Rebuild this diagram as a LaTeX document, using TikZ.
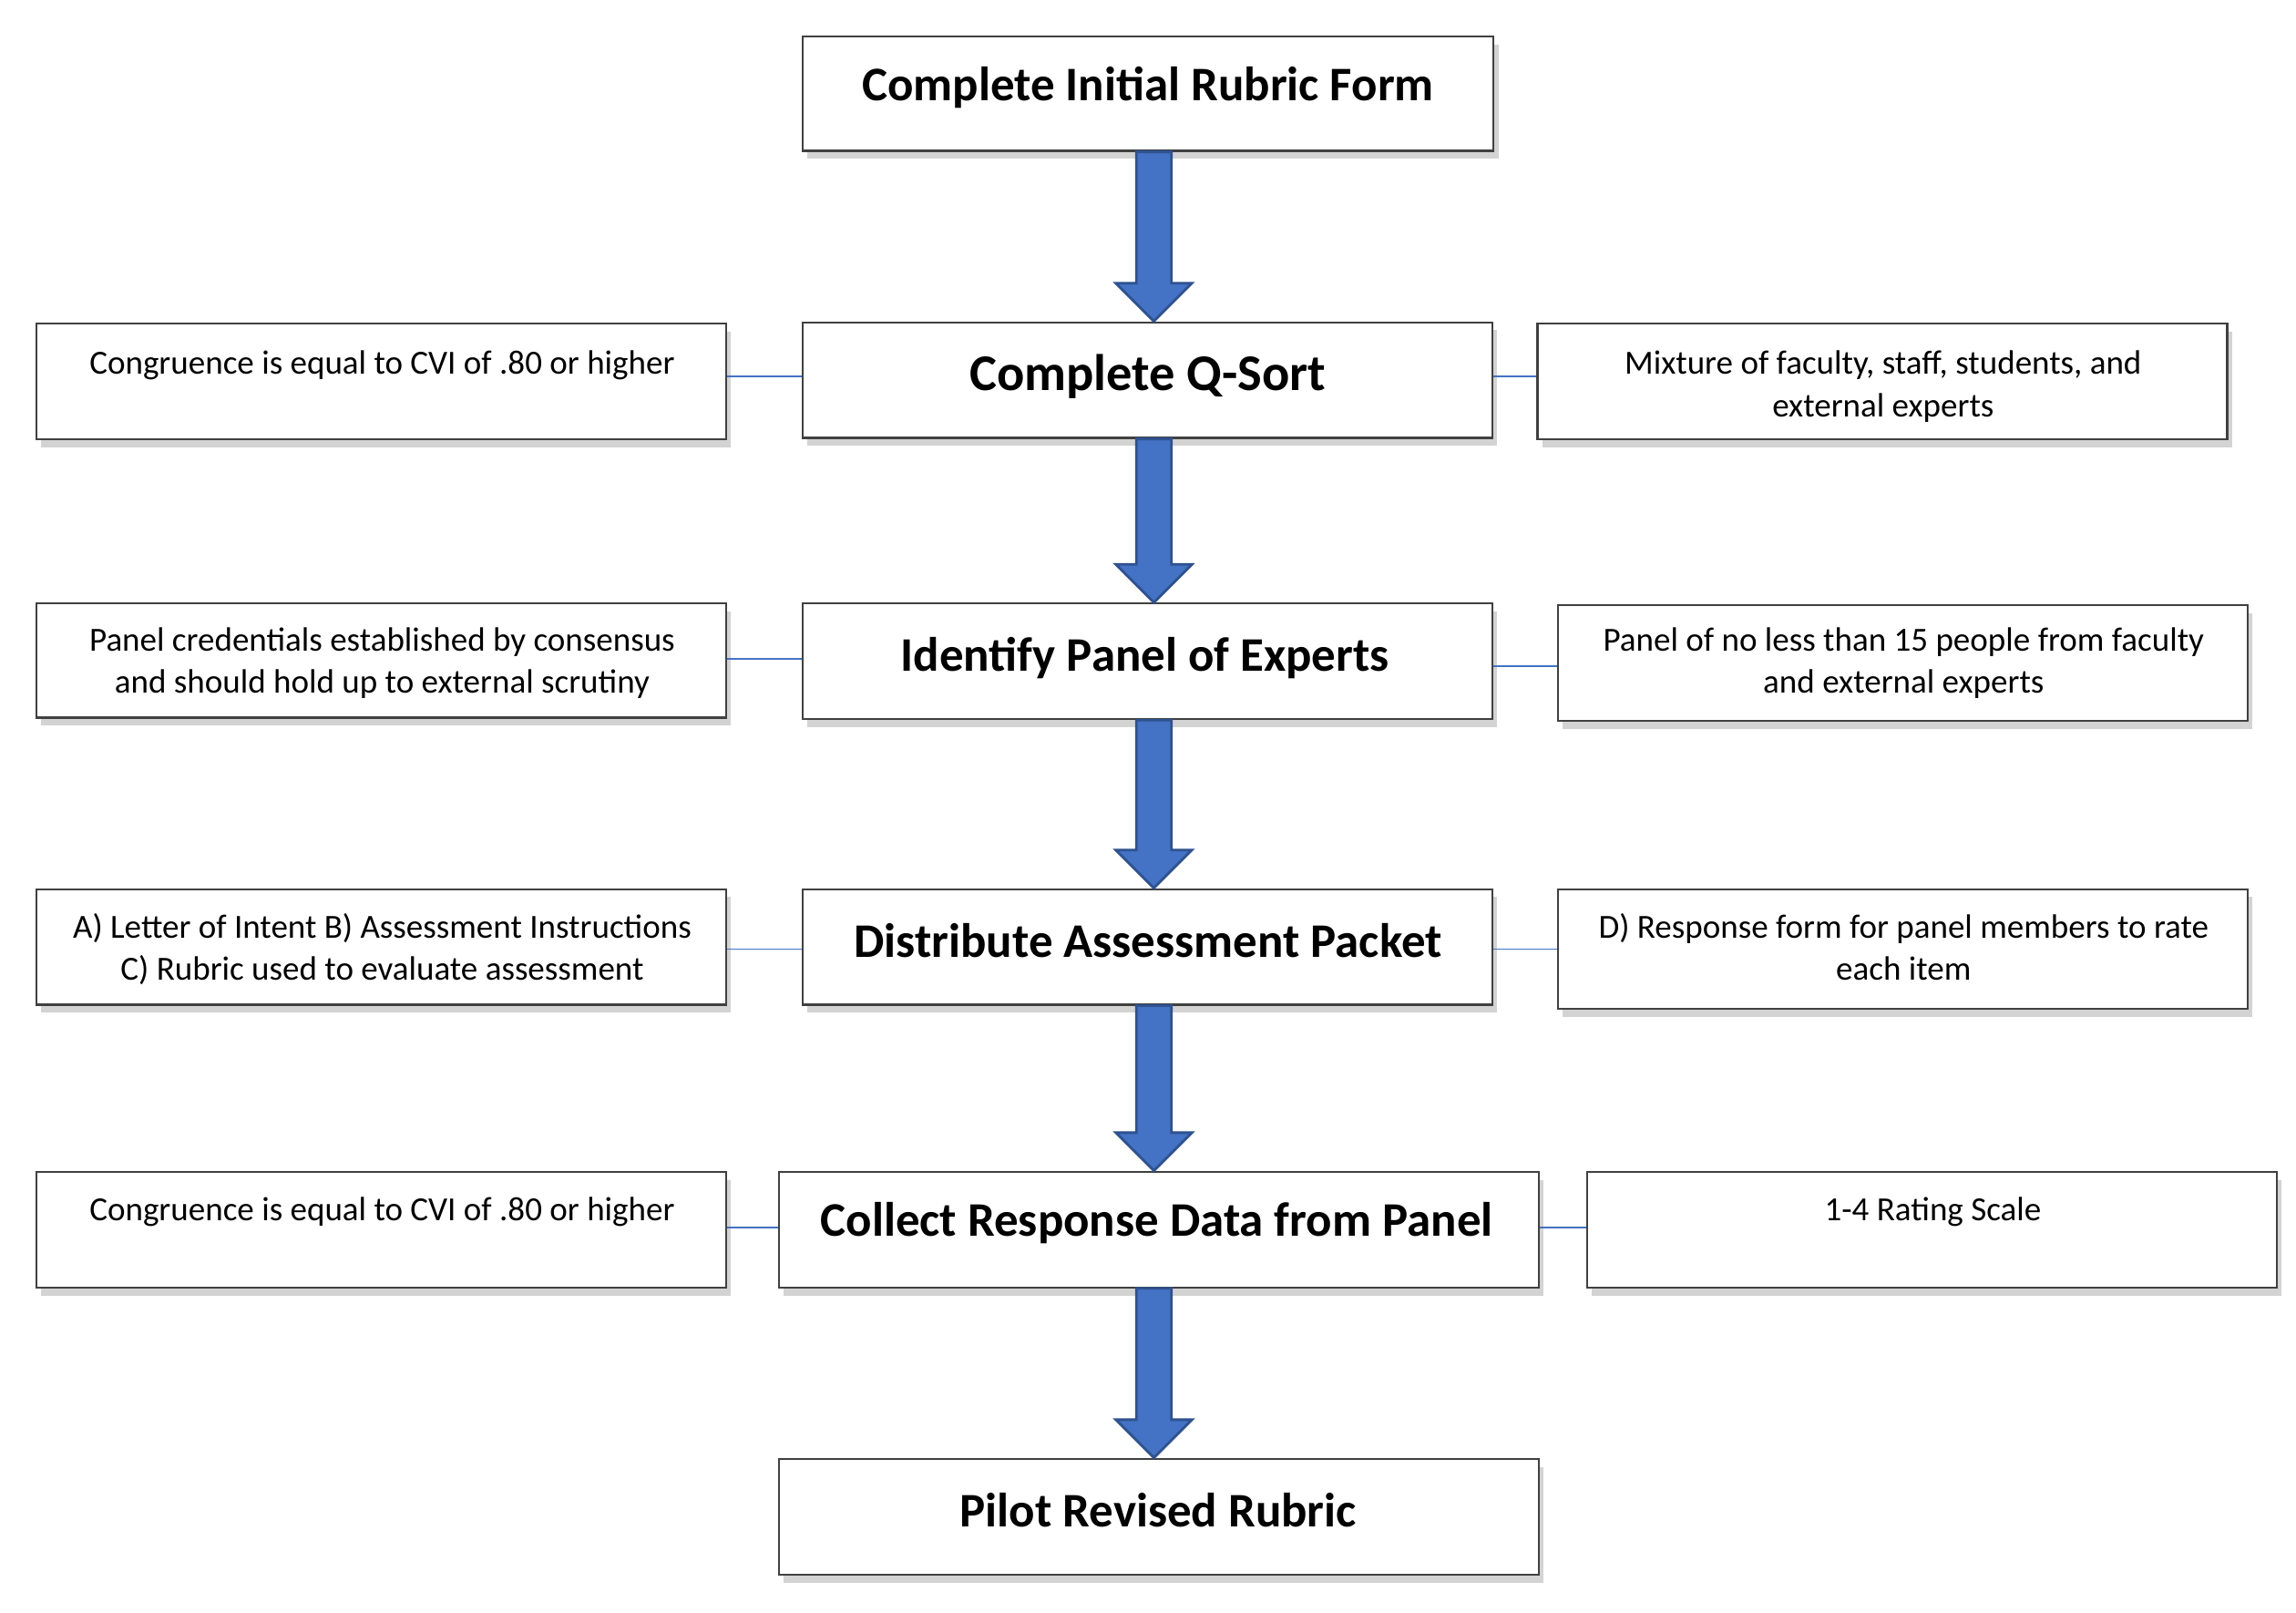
\documentclass[tikz,border=0pt]{standalone}
\usepackage{fontspec}
\setmainfont{Carlito}
\usetikzlibrary{shadows,calc}
\definecolor{arr}{HTML}{4472C4}
\definecolor{arrd}{HTML}{2F528F}
\begin{document}
\begin{tikzpicture}[x=0.4555pt,y=-0.4555pt,
 box/.style={draw=black!75,line width=0.6pt,fill=white,inner sep=0pt,
   drop shadow={opacity=0.35,shadow xshift=1.5pt,shadow yshift=-2.5pt}},
 mt/.style={font=\fontsize{15}{18}\selectfont\bfseries},
 st/.style={font=\fontsize{10.5}{13.2}\selectfont,align=center,anchor=north,inner sep=0pt},
 link/.style={draw=arr,line width=0.5pt},
 bigarrow/.style={fill=arr,draw=arrd,line width=0.8pt}]
\useasboundingbox (0,0) rectangle (1568,1101);
\newcommand\bx[6]{\node[box,minimum width={(#4-#2)*0.4555pt},minimum height={(#5-#3)*0.4555pt}] (#1) at ({(#2+#4)/2},{(#3+#5)/2}) {#6};}
% main boxes
\bx{m1}{548}{25}{1020}{103}{}
\node[mt] (t1) at (784,60) {Complete Initial Rubric Form};
\bx{m2}{548}{220}{1019}{299}{}
\node[mt,font=\fontsize{16}{18}\selectfont\bfseries] (t2) at (784,257) {Complete Q-Sort};
\bx{m3}{548}{412}{1019}{491}{}
\node[mt] (t3) at (782,449) {Identify Panel of Experts};
\bx{m4}{548}{607}{1019}{686}{}
\node[mt] (t4) at (784,642) {Distribute Assessment Packet};
\bx{m5}{532}{800}{1051}{879}{}
\node[mt] (t5) at (790,835) {Collect Response Data from Panel};
\bx{m6}{532}{996}{1051}{1075}{}
\node[mt] (t6) at (791,1031) {Pilot Revised Rubric};
% side boxes
\bx{l2}{25}{221}{496}{300}{}
\node[st] (tl2) at (261,239) {Congruence is equal to CVI of .80 or higher};
\bx{r2}{1050}{221}{1521}{300}{}
\node[st] (tr2) at (1286,239) {Mixture of faculty, staff, students, and\\external experts};
\bx{l3}{25}{412}{496}{490}{}
\node[st] (tl3) at (261,428) {Panel credentials established by consensus\\and should hold up to external scrutiny};
\bx{r3}{1064}{413}{1535}{492}{}
\node[st] (tr3) at (1300,428) {Panel of no less than 15 people from faculty\\and external experts};
\bx{l4}{25}{607}{496}{686}{}
\node[st] (tl4) at (261,623) {A) Letter of Intent B) Assessment Instructions\\C) Rubric used to evaluate assessment};
\bx{r4}{1064}{607}{1535}{689}{}
\node[st] (tr4) at (1300,623) {D) Response form for panel members to rate\\each item};
\bx{l5}{25}{800}{496}{879}{}
\node[st] (tl5) at (261,817) {Congruence is equal to CVI of .80 or higher};
\bx{r5}{1084}{800}{1555}{879}{}
\node[st] (tr5) at (1320,817) {1-4 Rating Scale};
% links
\draw[link] (l2.east |- 0,257) -- (m2.west |- 0,257);
\draw[link] (m2.east |- 0,257) -- (r2.west |- 0,257);
\draw[link] (l3.east |- 0,450) -- (m3.west |- 0,450);
\draw[link] (m3.east |- 0,455) -- (r3.west |- 0,455);
\draw[link] (l4.east |- 0,648) -- (m4.west |- 0,648);
\draw[link] (m4.east |- 0,648) -- (r4.west |- 0,648);
\draw[link] (l5.east |- 0,838) -- (m5.west |- 0,838);
\draw[link] (m5.east |- 0,838) -- (r5.west |- 0,838);
% arrows
\foreach \a/\b in {m1/m2,m2/m3,m3/m4,m4/m5,m5/m6}{
 \path (788,0 |- \a.south) coordinate (s) (788,0 |- \b.north) coordinate (e);
 \draw[bigarrow] ($(s)+(-12,0)$) -- ($(s)+(12,0)$) -- ($(e)+(12,-26)$) -- ($(e)+(26,-26)$)
   -- (e) -- ($(e)+(-26,-26)$) -- ($(e)+(-12,-26)$) -- cycle;
}
\end{tikzpicture}
\end{document}
